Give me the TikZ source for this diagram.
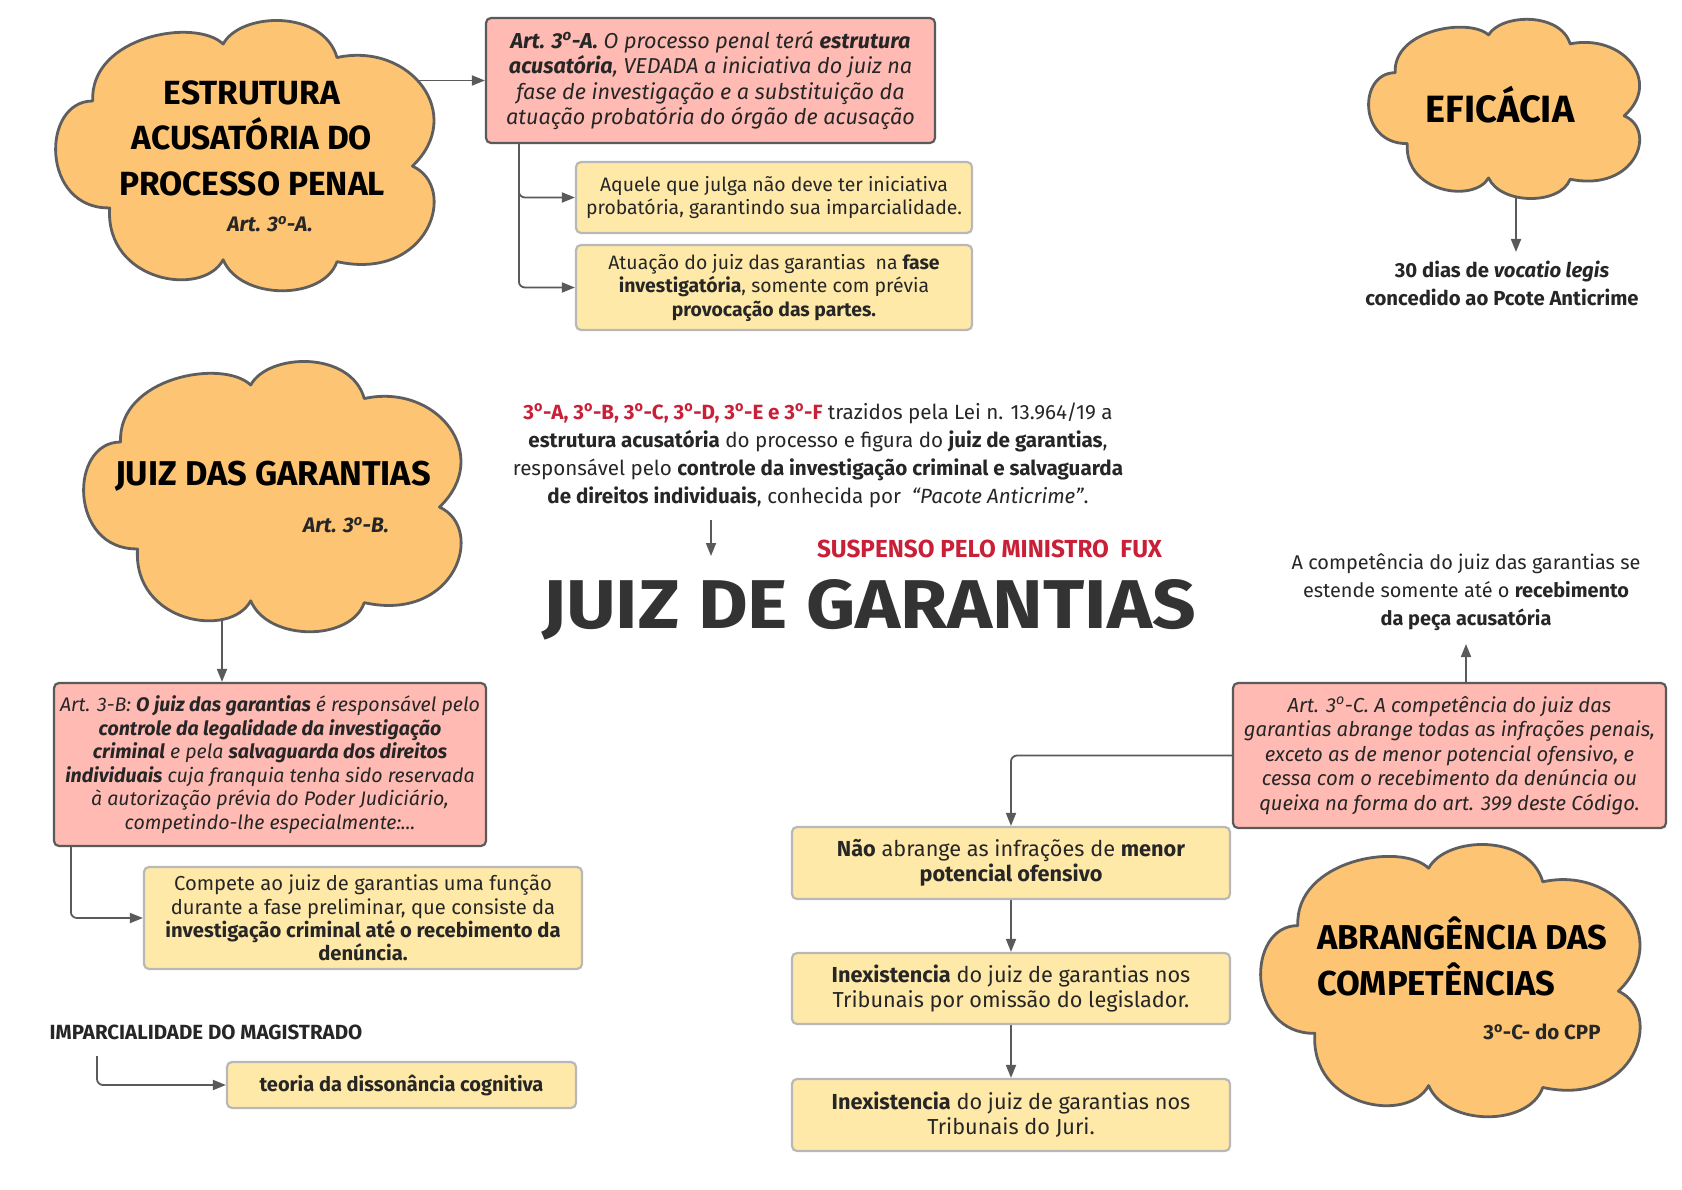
\documentclass[tikz,border=0pt]{standalone}
\usepackage{fontspec}
\setmainfont{Fira Sans}
\usetikzlibrary{arrows.meta,calc}
\definecolor{cloudfill}{HTML}{FDC473}
\definecolor{cloudline}{HTML}{5E5E5E}
\definecolor{redfill}{HTML}{FFBBB3}
\definecolor{redline}{HTML}{5A5A5A}
\definecolor{yelfill}{HTML}{FFE9A8}
\definecolor{yelline}{HTML}{B8B8B8}
\definecolor{conncol}{HTML}{5A5A5A}
\definecolor{textc}{HTML}{262626}
\definecolor{redtext}{HTML}{C91F37}
\definecolor{titlec}{HTML}{333333}
\pgfdeclarelayer{bg}
\pgfsetlayers{bg,main}
\newcommand{\ordo}{\textsuperscript{o}}
\newcommand{\cloudpath}{(0.108,0.300) .. controls (0.10,0.06) and (0.38,-0.01) .. (0.454,0.089)
 .. controls (0.50,-0.03) and (0.72,-0.04) .. (0.756,0.139)
 .. controls (0.95,0.08) and (1.10,0.35) .. (0.956,0.541)
 .. controls (1.08,0.62) and (1.0,0.97) .. (0.756,0.895)
 .. controls (0.72,1.04) and (0.50,1.04) .. (0.454,0.888)
 .. controls (0.40,1.03) and (0.14,0.97) .. (0.153,0.696)
 .. controls (-0.03,0.70) and (-0.03,0.30) .. cycle}
\newcommand{\drawcloud}[4]{\draw[cloudsty, shift={(#1,#2)}, x=#3pt, y=-#4pt] \cloudpath;}
\tikzset{
  cloudsty/.style={draw=cloudline, fill=cloudfill, line width=2.8pt, line join=round},
  redbox/.style={draw=redline, fill=redfill, line width=2.2pt, rounded corners=5pt, inner sep=0pt, text=textc, align=center},
  yelbox/.style={draw=yelline, fill=yelfill, line width=2.2pt, rounded corners=5pt, inner sep=0pt, text=textc, align=center},
  txt/.style={text=textc, align=center, inner sep=0pt},
  conn/.style={draw=conncol, line width=1.8pt, -{Triangle[length=13pt,width=10pt]}, rounded corners=6pt},
}
\begin{document}
\begin{tikzpicture}[x=1pt,y=-1pt]
\begin{pgfonlayer}{bg}
\path[fill=white] (0,0) rectangle (1682,1190);
\end{pgfonlayer}
\useasboundingbox (0,0) rectangle (1682,1190);

% ---------- clouds ----------
\drawcloud{52}{20}{377}{270}
\drawcloud{1366}{19}{270}{179}
\drawcloud{80}{361}{376}{270}
\drawcloud{1257}{844}{378}{272}

\node[txt, font=\fontsize{33.5}{45.5}\selectfont\bfseries, text=black] (c1t) at (252,138) {ESTRUTURA\\ACUSATÓRIA DO\\PROCESSO PENAL};
\node[txt, font=\fontsize{21}{25}\selectfont\bfseries\itshape] (c1a) at (270,224) {Art. 3\ordo-A.};
\node[txt, font=\fontsize{38}{46}\selectfont\bfseries, text=black] (eft1) at (1500,105) {EFICÁCIA};
\node[txt, font=\fontsize{34.4}{40}\selectfont\bfseries, text=black] (jgt) at (273,476) {JUIZ DAS GARANTIAS};
\node[txt, font=\fontsize{21}{25}\selectfont\bfseries\itshape] (jga) at (346,525) {Art. 3\ordo-B.};
\node[txt, font=\fontsize{34.5}{46}\selectfont\bfseries, text=black, align=left, anchor=west] (abt) at (1317,956) {ABRANGÊNCIA DAS\\COMPETÊNCIAS};
\node[txt, font=\fontsize{20.5}{24}\selectfont\bfseries] (aba) at (1542,1032) {3\ordo-C- do CPP};

% ---------- boxes ----------
\node[redbox, minimum width=449pt, minimum height=125pt, font=\fontsize{21.6}{25.5}\selectfont\itshape] (r1) at (710.5,80.5)
 {\textbf{Art. 3\ordo-A.} O processo penal terá \textbf{estrutura}\\\textbf{acusatória}, VEDADA a iniciativa do juiz na\\fase de investigação e a substituição da\\atuação probatória do órgão de acusação};
\node[yelbox, minimum width=396pt, minimum height=71pt, font=\fontsize{19.4}{23.5}\selectfont] (y1) at (774,197.5)
 {Aquele que julga não deve ter iniciativa\\probatória, garantindo sua imparcialidade.};
\node[yelbox, minimum width=396pt, minimum height=85pt, font=\fontsize{19.4}{23.5}\selectfont] (y2) at (774,287.5)
 {Atuação do juiz das garantias\ \ na \textbf{fase}\\\textbf{investigatória}, somente com prévia\\\textbf{provocação das partes.}};
\node[redbox, minimum width=432pt, minimum height=163pt, font=\fontsize{19.6}{23.5}\selectfont\itshape] (r2) at (270,764.5)
 {Art. 3-B: \textbf{O juiz das garantias} é responsável pelo\\\textbf{controle da legalidade da investigação}\\\textbf{criminal} e pela \textbf{salvaguarda dos direitos}\\\textbf{individuais} cuja franquia tenha sido reservada\\à autorização prévia do Poder Judiciário,\\competindo-lhe especialmente:...};
\node[yelbox, minimum width=438pt, minimum height=102pt, font=\fontsize{20.2}{23.3}\selectfont] (y3) at (363,918)
 {Compete ao juiz de garantias uma função\\durante a fase preliminar, que consiste da\\\textbf{investigação criminal até o recebimento da}\\\textbf{denúncia.}};
\node[txt, font=\fontsize{20.5}{24}\selectfont\bfseries] (imp) at (206,1032) {IMPARCIALIDADE DO MAGISTRADO};
\node[yelbox, minimum width=349pt, minimum height=46pt, font=\fontsize{20}{24}\selectfont\bfseries] (y4) at (401.5,1085)
 {teoria da dissonância cognitiva};

\node[redbox, minimum width=433pt, minimum height=145pt, font=\fontsize{20.3}{24.5}\selectfont\itshape] (r3) at (1449.5,755.5)
 {Art. 3\ordo-C. A competência do juiz das\\garantias abrange todas as infrações penais,\\exceto as de menor potencial ofensivo, e\\cessa com o recebimento da denúncia ou\\queixa na forma do art. 399 deste Código.};
\node[yelbox, minimum width=438pt, minimum height=72pt, font=\fontsize{21.7}{25}\selectfont] (y5) at (1011,863)
 {\textbf{Não} abrange as infrações de \textbf{menor}\\\textbf{potencial ofensivo}};
\node[yelbox, minimum width=438pt, minimum height=71pt, font=\fontsize{21.7}{25}\selectfont] (y6) at (1011,988.5)
 {\textbf{Inexistencia} do juiz de garantias nos\\Tribunais por omissão do legislador.};
\node[yelbox, minimum width=438pt, minimum height=72pt, font=\fontsize{21.7}{25}\selectfont] (y7) at (1011,1115)
 {\textbf{Inexistencia} do juiz de garantias nos\\Tribunais do Juri.};

% ---------- free texts ----------
\node[txt, font=\fontsize{20.3}{28}\selectfont\bfseries] (eft) at (1502,283) {30 dias de \textit{vocatio legis}\\concedido ao Pcote Anticrime};
\node[txt, font=\fontsize{20.6}{28}\selectfont] (ct) at (818,455)
 {{\color{redtext}\bfseries 3\ordo-A, 3\ordo-B, 3\ordo-C, 3\ordo-D, 3\ordo-E e 3\ordo-F} trazidos pela Lei n. 13.964/19 a\\\textbf{estrutura acusatória} do processo e figura do \textbf{juiz de garantias},\\responsável pelo \textbf{controle da investigação criminal e salvaguarda}\\\textbf{de direitos individuais}, conhecida por\ \ \textit{“Pacote Anticrime”}.};
\node[txt, text=redtext, font=\fontsize{24}{28}\selectfont\bfseries] (sus) at (989.5,549) {\resizebox{345pt}{17.5pt}{SUSPENSO PELO MINISTRO\ \ FUX}};
\node[txt, text=titlec, font=\fontsize{75}{80}\selectfont\bfseries] (title) at (869,610) {\resizebox{654pt}{49pt}{JUIZ DE GARANTIAS}};
\node[txt, font=\fontsize{19.9}{28}\selectfont] (rt) at (1466,592) {A competência do juiz das garantias se\\estende somente até o \textbf{recebimento}\\\textbf{da peça acusatória}};

% ---------- connectors ----------
\coordinate (c1o) at (400,80.5);
\coordinate (efo) at (1516,185);
\coordinate (efe) at (1516,252);
\coordinate (jgo) at (222,610);
\coordinate (ca) at (711,520);
\coordinate (cb) at (711,556);
\coordinate (rta) at (1466,644);
\coordinate (imo) at (97,1056);
\begin{pgfonlayer}{bg}
\draw[conn] (c1o) -- (r1.west);
\draw[conn] ($(r1.south west)+(34,0)$) |- (y1.west);
\draw[conn] ($(r1.south west)+(34,0)$) |- (y2.west);
\draw[conn] (efo) -- (efe);
\draw[conn] (jgo) -- (jgo |- r2.north);
\draw[conn] ($(r2.south west)+(18,0)$) |- (y3.west);
\draw[conn] (imo) |- (y4.west);
\draw[conn] (ca) -- (cb);
\draw[conn] (r3.north -| rta) -- (rta);
\draw[conn] (r3.west) -| (y5.north);
\draw[conn] (y5.south) -- (y6.north);
\draw[conn] (y6.south) -- (y7.north);
\end{pgfonlayer}
\end{tikzpicture}
\end{document}
